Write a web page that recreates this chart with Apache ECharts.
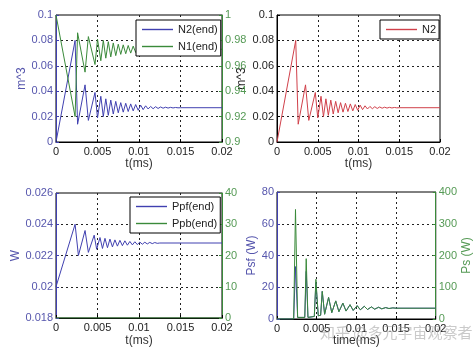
<!DOCTYPE html>
<html>
<head>
<meta charset="utf-8">
<script src="https://cdn.jsdelivr.net/npm/echarts@6/dist/echarts.min.js"></script>
<style>
  html, body { margin: 0; padding: 0; background: #fff; }
  #chart { width: 474px; height: 353px; }
</style>
</head>
<body>
<div id="chart"></div>
<script>
// [t(ms), value] turning points
const n2End = [
  [0, 0], [0.0023, 0.080], [0.0026, 0.014], [0.0035, 0.045], [0.0039, 0.017],
  [0.0047, 0.039], [0.0050, 0.019], [0.0054, 0.036], [0.0057, 0.020], [0.0060, 0.034],
  [0.0063, 0.021], [0.0066, 0.033], [0.0069, 0.022], [0.0072, 0.032], [0.0075, 0.023],
  [0.0078, 0.031], [0.0081, 0.0235], [0.0084, 0.0305], [0.0087, 0.024], [0.0090, 0.030],
  [0.0093, 0.0245], [0.0096, 0.0295], [0.0099, 0.025], [0.0102, 0.029], [0.0105, 0.0255],
  [0.0108, 0.0285], [0.0111, 0.026], [0.0114, 0.028], [0.0117, 0.0262], [0.0120, 0.0278],
  [0.0123, 0.0264], [0.0126, 0.0276], [0.0129, 0.0266], [0.0132, 0.0274], [0.0135, 0.0267],
  [0.0138, 0.0273], [0.0141, 0.0268], [0.0144, 0.0272], [0.0147, 0.0269], [0.0150, 0.027],
  [0.0200, 0.027]
];
const n1End = [
  [0, 1], [0.0023, 0.920], [0.0026, 0.986], [0.0035, 0.955], [0.0039, 0.983],
  [0.0047, 0.961], [0.0050, 0.981], [0.0054, 0.964], [0.0057, 0.980], [0.0060, 0.966],
  [0.0063, 0.979], [0.0066, 0.967], [0.0069, 0.978], [0.0072, 0.968], [0.0075, 0.977],
  [0.0078, 0.969], [0.0081, 0.9765], [0.0084, 0.9695], [0.0087, 0.976], [0.0090, 0.970],
  [0.0093, 0.9755], [0.0096, 0.9705], [0.0099, 0.975], [0.0102, 0.971], [0.0105, 0.9745],
  [0.0108, 0.9715], [0.0111, 0.974], [0.0114, 0.972], [0.0117, 0.9738], [0.0120, 0.9722],
  [0.0123, 0.9736], [0.0126, 0.9724], [0.0129, 0.9734], [0.0132, 0.9726], [0.0135, 0.9733],
  [0.0138, 0.9727], [0.0141, 0.9732], [0.0144, 0.9728], [0.0147, 0.9731], [0.0150, 0.973],
  [0.0200, 0.973]
];
const ppfEnd = [
  [0, 0.020], [0.0023, 0.0240], [0.0027, 0.0220], [0.0035, 0.0236], [0.0039, 0.0222],
  [0.0046, 0.0233], [0.0049, 0.0224], [0.0053, 0.02315], [0.0056, 0.02245], [0.0059, 0.0231],
  [0.0062, 0.0225], [0.0065, 0.02305], [0.0068, 0.02255], [0.0071, 0.0230], [0.0074, 0.0226],
  [0.0077, 0.02297], [0.0080, 0.02263], [0.0083, 0.02294], [0.0086, 0.02266], [0.0089, 0.0229],
  [0.0092, 0.02268], [0.0095, 0.02288], [0.0098, 0.0227], [0.0101, 0.02286], [0.0104, 0.02272],
  [0.0107, 0.02285], [0.0110, 0.02274], [0.0113, 0.02284], [0.0116, 0.02276], [0.0119, 0.02283],
  [0.0122, 0.02278], [0.0125, 0.0228], [0.0200, 0.0228]
];
const ppbEnd = [[0, 0], [0.0200, 0]];
const psf = [
  [0, 0], [0.0021, 0], [0.00233, 33], [0.0026, 1], [0.0035, 1], [0.00368, 30],
  [0.0039, 1], [0.0047, 1.6], [0.0049, 23], [0.0052, 2], [0.0055, 2.4], [0.0057, 17.4],
  [0.0060, 3], [0.0065, 13.6], [0.0069, 4], [0.0074, 11.4], [0.0078, 4.6], [0.0083, 10],
  [0.0087, 5], [0.0092, 9], [0.0096, 5.4], [0.0101, 8.4], [0.0105, 5.8], [0.0110, 8],
  [0.0114, 6], [0.0119, 7.6], [0.0123, 6.2], [0.0128, 7.4], [0.0132, 6.4], [0.0137, 7.2],
  [0.0141, 6.6], [0.0146, 7], [0.0150, 6.8], [0.0200, 6.8]
];
const ps = [
  [0, 0], [0.0021, 0], [0.00233, 345], [0.0026, 5], [0.0035, 5], [0.00368, 190],
  [0.0039, 5], [0.0047, 8], [0.0049, 125], [0.0052, 10], [0.0055, 12], [0.0057, 87],
  [0.0060, 15], [0.0065, 68], [0.0069, 20], [0.0074, 57], [0.0078, 23], [0.0083, 50],
  [0.0087, 25], [0.0092, 45], [0.0096, 27], [0.0101, 42], [0.0105, 29], [0.0110, 40],
  [0.0114, 30], [0.0119, 38], [0.0123, 31], [0.0128, 37], [0.0132, 32], [0.0137, 36],
  [0.0141, 33], [0.0146, 35], [0.0150, 34], [0.0200, 34]
];

const BLUE = '#4040b0';
const GREEN = '#3a8a3a';
const RED = '#d0404a';
const BLUE_TXT = '#5656ad';
const GREEN_TXT = '#559a55';
const FONT = 'Liberation Sans, Arial, sans-serif';

const dotted = { show: true, showMinLine: false, showMaxLine: false, lineStyle: { color: '#222', type: [2, 3], width: 1 } };

function xAx(grid, name, gap) {
  return {
    type: 'value', gridIndex: grid, min: 0, max: 0.02, interval: 0.005,
    name: name, nameLocation: 'middle', nameGap: gap,
    nameTextStyle: { color: '#333', fontSize: 12, fontFamily: FONT },
    axisLine: { lineStyle: { color: '#000' } },
    axisTick: { inside: true, length: 3, lineStyle: { color: '#000' } },
    axisLabel: { color: '#222', fontSize: 11, margin: 4, fontFamily: FONT },
    splitLine: dotted
  };
}
function yAx(grid, pos, min, max, step, color, txt, name, gap, split) {
  return {
    type: 'value', gridIndex: grid, position: pos, min: min, max: max, interval: step,
    name: name, nameLocation: 'middle', nameGap: gap, nameRotate: 90,
    nameTextStyle: { color: txt, fontSize: 12, fontFamily: FONT },
    axisLine: { show: true, lineStyle: { color: color } },
    axisTick: { show: true, inside: true, length: 3, lineStyle: { color: color } },
    axisLabel: { color: txt, fontSize: 11, margin: 3, fontFamily: FONT },
    splitLine: split ? dotted : { show: false }
  };
}
function line(name, x, y, data, color) {
  return {
    name: name, type: 'line', xAxisIndex: x, yAxisIndex: y, data: data,
    symbol: 'none', lineStyle: { color: color, width: 1 }, itemStyle: { color: color },
    animation: false
  };
}
function legendBox(items, colors, left, top) {
  return {
    data: items.map(function (n, i) {
      return { name: n, icon: 'rect', itemStyle: { color: colors[i], borderWidth: 0 } };
    }),
    orient: 'vertical', left: left, top: top,
    backgroundColor: '#fff', borderColor: '#000', borderWidth: 1,
    padding: [3, 3, 3, 6], itemGap: 4, itemWidth: 31, itemHeight: 1.4,
    textStyle: { fontSize: 11, color: '#222', fontFamily: FONT, lineHeight: 13 },
    selectedMode: false
  };
}

const chart = echarts.init(document.getElementById('chart'), null, { renderer: 'canvas' });
chart.setOption({
  animation: false,
  backgroundColor: '#fff',
  grid: [
    { left: 56, top: 15, width: 166, height: 127, show: true, borderColor: '#000', borderWidth: 1 },
    { left: 277, top: 15, width: 163, height: 127, show: true, borderColor: '#000', borderWidth: 1 },
    { left: 56, top: 193, width: 166, height: 125, show: true, borderColor: '#000', borderWidth: 1 },
    { left: 277, top: 192, width: 163, height: 127, show: true, borderColor: '#000', borderWidth: 1 }
  ],
  xAxis: [
    xAx(0, 't(ms)', 15),
    xAx(1, 't(ms)', 15),
    xAx(2, 't(ms)', 17),
    xAx(3, 'time(ms)', 15)
  ],
  yAxis: [
    yAx(0, 'left', 0, 0.1, 0.02, BLUE, BLUE_TXT, 'm^3', 28, true),
    yAx(0, 'right', 0.9, 1, 0.02, GREEN, GREEN_TXT, '', 20, false),
    yAx(1, 'left', 0, 0.1, 0.02, '#000', '#222', 'm^3', 29, true),
    yAx(2, 'left', 0.018, 0.026, 0.002, BLUE, BLUE_TXT, 'W', 32, true),
    yAx(2, 'right', 0, 40, 10, GREEN, GREEN_TXT, '', 20, false),
    yAx(3, 'left', 0, 80, 20, BLUE, BLUE_TXT, 'Psf (W)', 19, true),
    yAx(3, 'right', 0, 400, 100, GREEN, GREEN_TXT, 'Ps (W)', 21, false)
  ],
  legend: [
    legendBox(['N2(end)', 'N1(end)'], [BLUE, GREEN], 136, 20),
    legendBox(['N2'], [RED], 380, 20),
    legendBox(['Ppf(end)', 'Ppb(end)'], [BLUE, GREEN], 130, 197)
  ],
  series: [
    line('N2(end)', 0, 0, n2End, BLUE),
    line('N1(end)', 0, 1, n1End, GREEN),
    line('N2', 1, 2, n2End, RED),
    line('Ppf(end)', 2, 3, ppfEnd, BLUE),
    line('Ppb(end)', 2, 4, ppbEnd, GREEN),
    line('Psf', 3, 5, psf, BLUE),
    line('Ps', 3, 6, ps, GREEN)
  ],
  graphic: [{
    type: 'text', left: 320, top: 325, z: 100,
    style: { text: '知乎 @多元宇宙观察者', fontSize: 15, fill: 'rgba(150,150,150,0.5)', fontFamily: 'Noto Sans CJK SC' }
  }]
});
</script>
</body>
</html>
